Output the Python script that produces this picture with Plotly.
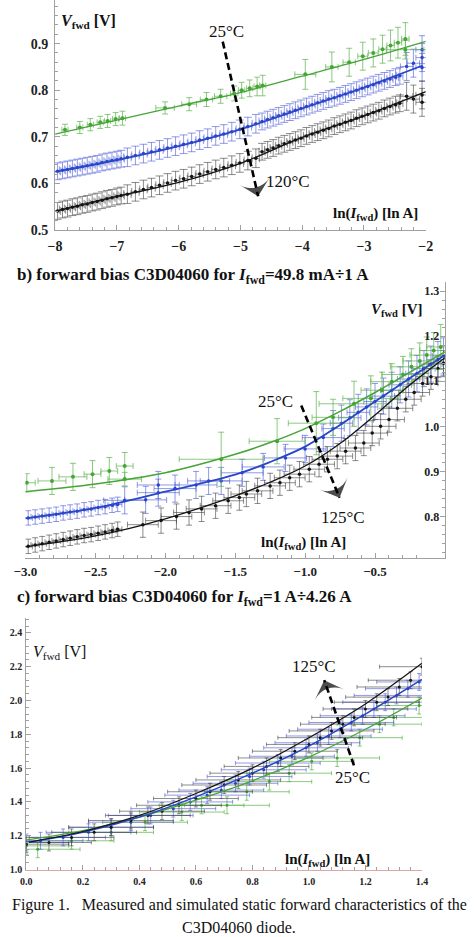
import plotly.graph_objects as go

W, H = 474, 937

# ---------------- panel a data (ln I from -8 to -2) ----------------
A_GREEN_X = [-7.84, -7.60, -7.43, -7.27, -7.15, -7.02, -6.91, -6.22, -5.83, -5.55, -5.32, -5.10, -4.98,
             -4.85, -4.73, -4.64, -3.95, -3.52, -3.24, -3.02, -2.85, -2.70, -2.57, -2.45, -2.33, -2.33]
A_GREEN_Y = [0.715, 0.720, 0.726, 0.731, 0.734, 0.738, 0.740, 0.762, 0.770, 0.780, 0.787, 0.793, 0.800,
             0.804, 0.808, 0.810, 0.834, 0.850, 0.860, 0.873, 0.880, 0.888, 0.896, 0.902, 0.910, 0.887]
A_GREEN_EY = [0.012, 0.013, 0.013, 0.013, 0.014, 0.014, 0.015, 0.013, 0.014, 0.015, 0.015, 0.016, 0.017,
              0.018, 0.020, 0.022, 0.032, 0.032, 0.030, 0.030, 0.030, 0.030, 0.033, 0.033, 0.035, 0.020]
A_GREEN_EX = [0.05, 0.05, 0.05, 0.05, 0.05, 0.05, 0.05, 0.15, 0.12, 0.10, 0.10, 0.06, 0.05,
              0.05, 0.05, 0.05, 0.17, 0.10, 0.10, 0.08, 0.08, 0.06, 0.06, 0.06, 0.06, 0.30]

A_X = [-7.96, -7.88, -7.80, -7.72, -7.64, -7.56, -7.48, -7.40, -7.32, -7.24, -7.16, -7.08, -7.00, -6.93,
       -6.83, -6.70, -6.57, -6.44, -6.31, -6.18, -6.05, -5.92, -5.79, -5.66, -5.53, -5.40, -5.27, -5.14,
       -5.01, -4.88, -4.75,
       -4.65, -4.56, -4.47, -4.38, -4.29, -4.20, -4.11, -4.02, -3.93, -3.84, -3.75, -3.66, -3.57, -3.48,
       -3.39, -3.30, -3.21, -3.12, -3.03, -2.94, -2.85, -2.76, -2.67, -2.58, -2.49, -2.42]
A_BLUE_Y = [0.626, 0.628, 0.630, 0.632, 0.634, 0.636, 0.638, 0.640, 0.642, 0.645, 0.647, 0.649, 0.651, 0.653,
            0.656, 0.660, 0.664, 0.668, 0.672, 0.676, 0.680, 0.684, 0.688, 0.693, 0.697, 0.702, 0.706, 0.711,
            0.716, 0.722, 0.728,
            0.733, 0.737, 0.741, 0.745, 0.749, 0.753, 0.757, 0.761, 0.765, 0.769, 0.773, 0.777, 0.781, 0.784,
            0.788, 0.792, 0.796, 0.800, 0.804, 0.808, 0.812, 0.816, 0.820, 0.824, 0.828, 0.831]
A_BLACK_Y = [0.541, 0.544, 0.546, 0.549, 0.551, 0.554, 0.556, 0.559, 0.561, 0.564, 0.567, 0.569, 0.572, 0.574,
             0.577, 0.582, 0.587, 0.591, 0.596, 0.601, 0.606, 0.610, 0.615, 0.620, 0.625, 0.630, 0.634, 0.639,
             0.644, 0.649, 0.654,
             0.668, 0.672, 0.676, 0.681, 0.685, 0.689, 0.693, 0.697, 0.702, 0.706, 0.710, 0.714, 0.718, 0.723,
             0.727, 0.731, 0.735, 0.740, 0.744, 0.748, 0.752, 0.756, 0.761, 0.765, 0.769, 0.772]
A_TAIL_X = [-2.31, -2.20, -2.06, -2.06, -2.06]
A_BLUE_TAIL_Y = [0.851, 0.858, 0.870, 0.887, 0.849]
A_BLACK_TAIL_Y = [0.787, 0.781, 0.790, 0.774, 0.796]

A_LINE_X = [-8, -7, -6, -5, -4, -3, -2]
A_GREEN_LINE = [0.706, 0.736, 0.766, 0.795, 0.830, 0.866, 0.905]
A_BLUE_LINE_X = [-8, -7, -6, -5, -4, -3, -2.05]
A_BLUE_LINE = [0.625, 0.650, 0.680, 0.716, 0.761, 0.806, 0.853]
A_BLACK_LINE = [0.540, 0.572, 0.602, 0.643, 0.699, 0.745, 0.797]

# ---------------- panel b data (ln I from -3 to 0) ----------------
B_GREEN_X = [-2.99, -2.81, -2.66, -2.52, -2.40, -2.29, -2.29, -1.60, -1.20, -0.92, -0.80, -0.65, -0.53,
             -0.45, -0.38, -0.30, -0.24, -0.18, -0.13, -0.08, -0.03]
B_GREEN_Y = [0.875, 0.879, 0.888, 0.894, 0.901, 0.912, 0.883, 0.927, 0.967, 1.007, 1.020, 1.050, 1.062,
             1.080, 1.099, 1.115, 1.132, 1.145, 1.158, 1.168, 1.176]
B_GREEN_EY = [0.020, 0.030, 0.030, 0.030, 0.030, 0.030, 0.015, 0.060, 0.050, 0.070, 0.040, 0.050, 0.050,
              0.040, 0.040, 0.040, 0.040, 0.040, 0.040, 0.040, 0.050]
B_GREEN_EX = [0.06, 0.10, 0.10, 0.06, 0.06, 0.06, 0.12, 0.30, 0.20, 0.20, 0.15, 0.25, 0.20,
              0.15, 0.15, 0.15, 0.15, 0.12, 0.12, 0.10, 0.10]

B_DENSE_X = [-2.98, -2.93, -2.88, -2.83, -2.78, -2.73, -2.68, -2.63, -2.58, -2.53, -2.48, -2.43, -2.38, -2.34]
B_BLUE_DENSE_Y = [0.797, 0.799, 0.801, 0.803, 0.805, 0.808, 0.810, 0.812, 0.815, 0.817, 0.820, 0.822, 0.825, 0.827]
B_BLACK_DENSE_Y = [0.734, 0.737, 0.740, 0.743, 0.746, 0.749, 0.752, 0.755, 0.758, 0.760, 0.763, 0.766, 0.769, 0.772]

B_BLUE_X = [-2.29, -2.14, -2.05, -2.05, -1.93, -1.78, -1.69, -1.60, -1.45, -1.30, -1.14, -1.00, -0.87,
            -0.80, -0.74, -0.68, -0.62, -0.56, -0.50, -0.44, -0.38, -0.32, -0.26, -0.20, -0.15, -0.10,
            -0.05, -0.01]
B_BLUE_Y = [0.836, 0.837, 0.853, 0.870, 0.862, 0.870, 0.879, 0.879, 0.897, 0.910, 0.930, 0.950, 0.975,
            0.995, 1.007, 1.019, 1.031, 1.043, 1.055, 1.067, 1.080, 1.092, 1.105, 1.117, 1.128, 1.138,
            1.148, 1.156]
B_BLUE_EY = [0.030] * 13 + [0.040] * 15
B_BLUE_EX = [0.15] * 13 + [0.08] * 15

B_BLACK_X = [-2.16, -2.03, -1.92, -1.83, -1.74, -1.64, -1.55, -1.47, -1.42, -1.34, -1.25, -1.18, -1.11,
             -1.04, -0.97, -0.90, -0.84, -0.77, -0.71, -0.64, -0.58, -0.52, -0.46, -0.40, -0.34, -0.28,
             -0.22, -0.16, -0.10, -0.05, -0.01]
B_BLACK_Y = [0.782, 0.791, 0.800, 0.809, 0.817, 0.824, 0.835, 0.842, 0.850, 0.857, 0.868, 0.875, 0.886,
             0.894, 0.905, 0.916, 0.927, 0.934, 0.945, 0.952, 0.963, 0.985, 1.000, 1.015, 1.040, 1.060,
             1.075, 1.095, 1.110, 1.128, 1.140]

B_LINE_X = [-3, -2.5, -2.0, -1.5, -1.25, -1.0, -0.75, -0.5, -0.25, 0]
B_GREEN_LINE = [0.855, 0.872, 0.897, 0.938, 0.964, 0.995, 1.033, 1.075, 1.120, 1.165]
B_BLUE_LINE = [0.796, 0.819, 0.855, 0.893, 0.921, 0.955, 1.003, 1.055, 1.107, 1.158]
B_BLACK_LINE = [0.733, 0.757, 0.795, 0.846, 0.876, 0.912, 0.962, 1.025, 1.092, 1.152]

# ---------------- panel c data (ln I from 0 to 1.4) ----------------
C_BLACK_X = [0.00, 0.08, 0.16, 0.24, 0.30, 0.37, 0.43, 0.48, 0.54, 0.60, 0.65, 0.70, 0.75, 0.80,
             0.85, 0.90, 0.95, 1.00, 1.04, 1.08, 1.12, 1.16, 1.20, 1.24, 1.28, 1.32, 1.36, 1.40]
C_BLACK_Y = [1.15, 1.16, 1.19, 1.22, 1.25, 1.29, 1.32, 1.345, 1.38, 1.42, 1.46, 1.50, 1.53, 1.57,
             1.61, 1.66, 1.70, 1.74, 1.78, 1.82, 1.86, 1.90, 1.95, 1.99, 2.02, 2.08, 2.12, 2.20]
C_BLUE_X = [0.00, 0.05, 0.13, 0.22, 0.30, 0.37, 0.44, 0.52, 0.58, 0.64, 0.69, 0.74, 0.79, 0.84,
            0.89, 0.94, 0.99, 1.03, 1.07, 1.11, 1.15, 1.19, 1.23, 1.27, 1.31, 1.35, 1.39]
C_BLUE_Y = [1.16, 1.17, 1.19, 1.22, 1.25, 1.28, 1.32, 1.36, 1.40, 1.44, 1.47, 1.51, 1.55, 1.59,
            1.63, 1.67, 1.72, 1.75, 1.79, 1.83, 1.87, 1.91, 1.95, 1.99, 2.03, 2.07, 2.11]
C_GREEN_X = [0.00, 0.04, 0.16, 0.30, 0.42, 0.55, 0.62, 0.71, 0.78, 0.86, 0.93, 1.01, 1.10, 1.18,
             1.25, 1.30, 1.39]
C_GREEN_Y = [1.14, 1.12, 1.17, 1.22, 1.28, 1.34, 1.38, 1.38, 1.46, 1.52, 1.57, 1.64, 1.66, 1.78,
             1.86, 1.90, 1.97]

C_LINE_X = [0, 0.2, 0.4, 0.6, 0.8, 1.0, 1.2, 1.4]
C_BLACK_LINE = [1.16, 1.225, 1.32, 1.45, 1.60, 1.78, 1.98, 2.22]
C_BLUE_LINE = [1.16, 1.22, 1.31, 1.43, 1.57, 1.73, 1.92, 2.125]
C_GREEN_LINE = [1.175, 1.23, 1.31, 1.41, 1.525, 1.665, 1.83, 2.015]

# ---------------- styling ----------------
SERIF = "Liberation Serif"
GREEN, GREEN_BAR = "rgb(70,165,55)", "rgba(95,180,80,0.9)"
BLUE, BLUE_BAR = "rgb(40,70,200)", "rgba(80,95,215,0.8)"
BLACK, BLACK_BAR = "rgb(20,20,20)", "rgba(50,50,50,0.7)"
AXIS = "#a0a0a0"

fig = go.Figure()


def err(e, color, cap, thick):
    if isinstance(e, list):
        return dict(type="data", array=e, color=color, thickness=thick, width=cap)
    return dict(type="constant", value=e, color=color, thickness=thick, width=cap)


def meas(x, y, ex, ey, color, bar, xa, ya, size=3.5, cap=3, thick=0.8):
    fig.add_trace(go.Scatter(
        x=x, y=y, mode="markers", xaxis=xa, yaxis=ya, showlegend=False, hoverinfo="skip",
        marker=dict(color=color, size=size),
        error_x=err(ex, bar, cap, thick), error_y=err(ey, bar, cap, thick)))


def curve(x, y, color, width, xa, ya):
    fig.add_trace(go.Scatter(x=x, y=y, mode="lines", xaxis=xa, yaxis=ya, showlegend=False,
                             hoverinfo="skip",
                             line=dict(color=color, width=width, shape="spline", smoothing=1.0)))


# panel a
n1, n2 = 14, 31
meas(A_X[:n1], A_BLUE_Y[:n1], 0.05, 0.018, BLUE, BLUE_BAR, "x", "y", cap=4)
meas(A_X[n1:n2], A_BLUE_Y[n1:n2], 0.06, 0.02, BLUE, BLUE_BAR, "x", "y", cap=4)
meas(A_X[n2:], A_BLUE_Y[n2:], 0.05, 0.018, BLUE, BLUE_BAR, "x", "y", cap=4)
meas(A_TAIL_X, A_BLUE_TAIL_Y, 0.10, 0.03, BLUE, BLUE_BAR, "x", "y")
meas(A_X[:n1], A_BLACK_Y[:n1], 0.05, 0.018, BLACK, BLACK_BAR, "x", "y", cap=4)
meas(A_X[n1:n2], A_BLACK_Y[n1:n2], 0.06, 0.02, BLACK, BLACK_BAR, "x", "y", cap=4)
meas(A_X[n2:], A_BLACK_Y[n2:], 0.05, 0.018, BLACK, BLACK_BAR, "x", "y", cap=4)
meas(A_TAIL_X[:4], A_BLACK_TAIL_Y[:4], 0.10, 0.03, BLACK, BLACK_BAR, "x", "y")
meas(A_GREEN_X, A_GREEN_Y, A_GREEN_EX, A_GREEN_EY, GREEN, GREEN_BAR, "x", "y", size=4)
curve(A_LINE_X, A_GREEN_LINE, GREEN, 1.3, "x", "y")
curve(A_BLUE_LINE_X, A_BLUE_LINE, BLUE, 1.6, "x", "y")
curve(A_LINE_X, A_BLACK_LINE, BLACK, 1.3, "x", "y")

# panel b
meas(B_DENSE_X, B_BLUE_DENSE_Y, 0.03, 0.016, BLUE, BLUE_BAR, "x2", "y2")
meas(B_BLUE_X, B_BLUE_Y, B_BLUE_EX, B_BLUE_EY, BLUE, BLUE_BAR, "x2", "y2")
meas(B_DENSE_X, B_BLACK_DENSE_Y, 0.03, 0.016, BLACK, BLACK_BAR, "x2", "y2")
meas(B_BLACK_X, B_BLACK_Y, 0.11, 0.028, BLACK, BLACK_BAR, "x2", "y2")
meas(B_GREEN_X, B_GREEN_Y, B_GREEN_EX, B_GREEN_EY, GREEN, GREEN_BAR, "x2", "y2", size=4)
curve(B_LINE_X, B_GREEN_LINE, GREEN, 1.5, "x2", "y2")
curve(B_LINE_X, B_BLUE_LINE, BLUE, 1.8, "x2", "y2")
curve(B_LINE_X, B_BLACK_LINE, BLACK, 1.3, "x2", "y2")

# panel c
meas(C_GREEN_X, C_GREEN_Y, 0.15, 0.05, GREEN, GREEN_BAR, "x3", "y3", size=3, cap=2)
meas(C_BLUE_X, C_BLUE_Y, 0.15, 0.05, BLUE, BLUE_BAR, "x3", "y3", size=3, cap=2)
meas(C_BLACK_X, C_BLACK_Y, 0.15, 0.05, BLACK, BLACK_BAR, "x3", "y3", size=3, cap=2)
curve(C_LINE_X, C_GREEN_LINE, GREEN, 1.3, "x3", "y3")
curve(C_LINE_X, C_BLUE_LINE, BLUE, 1.5, "x3", "y3")
curve(C_LINE_X, C_BLACK_LINE, BLACK, 1.2, "x3", "y3")


def dom_x(a, b):
    return [a / W, b / W]


def dom_y(top, bottom):
    return [1 - bottom / H, 1 - top / H]


def axis(fs, **kw):
    d = dict(showgrid=False, zeroline=False, showline=True, linecolor=AXIS, linewidth=1,
             ticks="inside", ticklen=5, tickcolor=AXIS, tickwidth=1,
             tickfont=dict(family=SERIF, size=fs, color="#222", weight="bold"),
             fixedrange=True)
    d.update(kw)
    return d


fig.update_layout(
    width=W, height=H, margin=dict(l=0, r=0, t=0, b=0),
    paper_bgcolor="white", plot_bgcolor="rgba(0,0,0,0)", showlegend=False,
    xaxis=axis(14, domain=dom_x(45, 432), range=[-8, -2], anchor="y", dtick=1,
               minor=dict(ticks="inside", dtick=0.2, ticklen=3, tickcolor=AXIS), ticklabelstandoff=3),
    yaxis=axis(14, domain=dom_y(0, 232), range=[0.5, 0.9936], anchor="x", dtick=0.1, tickformat=".1f",
               minor=dict(ticks="inside", dtick=0.02, ticklen=3, tickcolor=AXIS), ticklabelstandoff=3),
    xaxis2=axis(13, domain=dom_x(14, 452), range=[-3, 0], anchor="y2", dtick=0.5, tickformat=".1f",
                minor=dict(ticks="inside", dtick=0.1, ticklen=3, tickcolor=AXIS), ticklabelstandoff=1),
    yaxis2=axis(12, domain=dom_y(284, 563), range=[0.7077, 1.3209], anchor="x2", side="right",
                ticklabelposition="inside", dtick=0.1, tickformat=".1f",
                minor=dict(ticks="inside", dtick=0.02, ticklen=3, tickcolor=AXIS)),
    xaxis3=axis(10, domain=dom_x(15, 428), range=[0, 1.4], anchor="y3", dtick=0.2, tickformat=".1f",
                linecolor="#dca8a8",
                minor=dict(ticks="inside", dtick=0.04, ticklen=3, tickcolor=AXIS), ticklabelstandoff=2),
    yaxis3=axis(10, domain=dom_y(623, 877), range=[1.0, 2.49], anchor="x3", dtick=0.2, tickformat=".1f",
                minor=dict(ticks="inside", dtick=0.04, ticklen=3, tickcolor=AXIS), ticklabelstandoff=1),
    # invisible full-page overlay in pixel units, used only for the dashed guide arrows
    xaxis4=dict(domain=[0, 1], range=[0, W], visible=False, fixedrange=True, anchor="y4"),
    yaxis4=dict(domain=[0, 1], range=[H, 0], visible=False, fixedrange=True, anchor="x4"),
)


def text(xp, yp, s, size, xanchor="center", color="#111"):
    fig.add_annotation(x=xp / W, y=1 - yp / H, xref="paper", yref="paper", text=s, showarrow=False,
                       xanchor=xanchor, yanchor="middle",
                       font=dict(family=SERIF, size=size, color=color))


VLAB = "<b><i>V</i><sub>fwd</sub> [V]</b>"
ILAB = "<b>ln(<i>I</i><sub>fwd</sub>) [ln A]</b>"

# panel a labels
text(80, 22, VLAB, 16)
text(380, 216, ILAB, 15)
text(224, 32, "25°C", 17)
text(288, 183, "120°C", 17)
# panel b labels
text(3, 278, "<b>b) forward bias C3D04060 for <i>I</i><sub>fwd</sub>=49.8 mA÷1 A</b>", 17, xanchor="left")
text(402, 313, VLAB, 15)
text(275, 405, "25°C", 17)
text(346, 522, "125°C", 17)
text(304, 548, ILAB, 15)
# panel c labels
text(3, 603, "<b>c) forward bias C3D04060 for <i>I</i><sub>fwd</sub>=1 A÷4.26 A</b>", 17, xanchor="left")
text(50, 658, "<i>V</i><sub>fwd</sub> [V]", 16)
text(315, 672, "125°C", 17)
text(356, 784, "25°C", 17)
text(329, 867, ILAB, 15)
# caption
text(237, 913, "Figure 1.&nbsp;&nbsp; Measured and simulated static forward characteristics of the", 16)
text(237, 935, "C3D04060 diode.", 16)

# dashed guide arrows (pixel positions of tail and head on the page)
ARROWS = [((220, 42), (257, 198)), ((302, 409), (342, 502)), ((357, 772), (326, 686))]
for (x0, y0), (x1, y1) in ARROWS:
    fig.add_trace(go.Scatter(
        x=[x0, x1], y=[y0, y1], mode="lines", xaxis="x4", yaxis="y4", showlegend=False,
        hoverinfo="skip", line=dict(color="black", width=2.6, dash="7px,4px")))
    fig.add_trace(go.Scatter(
        x=[x0, x1], y=[y0, y1], mode="markers", xaxis="x4", yaxis="y4", showlegend=False,
        hoverinfo="skip", cliponaxis=False,
        marker=dict(symbol=["circle", "arrow-wide"], size=[0, 22], angleref="previous",
                    color="black", line=dict(width=0))))

fig.write_html("out.html")
